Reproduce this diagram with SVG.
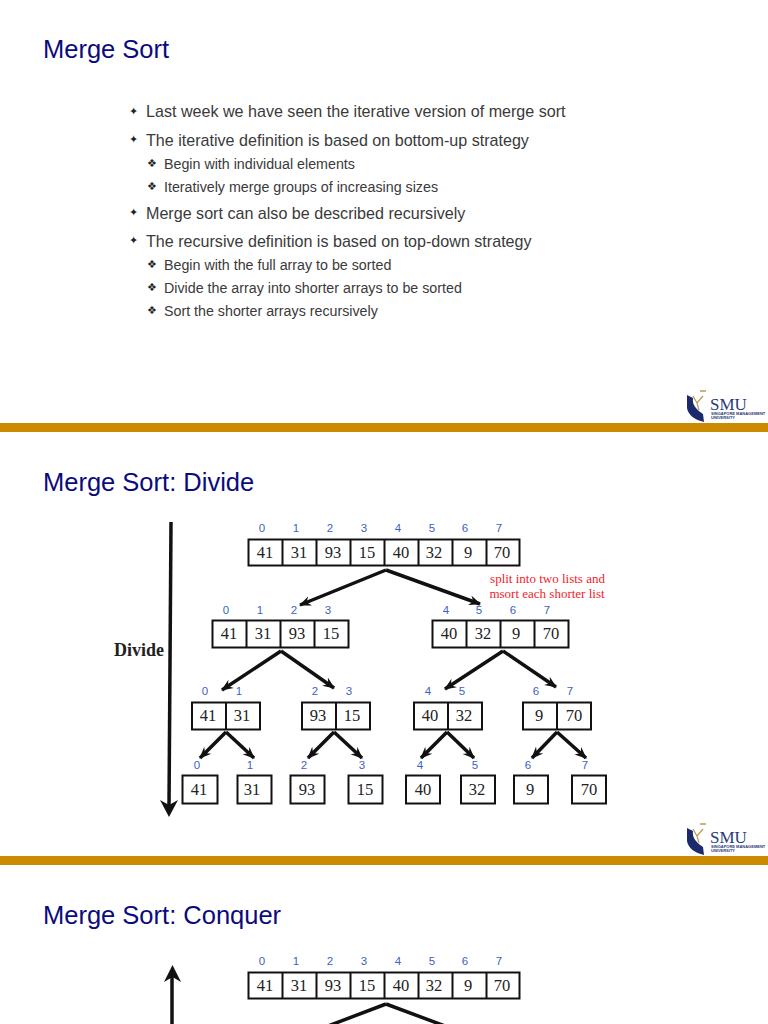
<svg xmlns="http://www.w3.org/2000/svg" width="768" height="1024" viewBox="0 0 768 1024">
<style>
.title{font:25.500px "Liberation Sans",Arial,sans-serif;fill:#0b0b7d}
.b1{font:16.100px "Liberation Sans",Arial,sans-serif;fill:#3a3a3a}
.b2{font:14.250px "Liberation Sans",Arial,sans-serif;fill:#3a3a3a}
.m1{font:11px "DejaVu Sans",sans-serif;fill:#222}
.m2{font:11px "DejaVu Sans",sans-serif;fill:#222}
.band{fill:#cc8a00}
.box{fill:#fff;stroke:#111;stroke-width:2}
.div{stroke:#111;stroke-width:2}
.v{font:16.500px "Liberation Serif",serif;fill:#222;text-anchor:middle}
.i{font:11.500px "Liberation Sans",sans-serif;fill:#3c62c4;text-anchor:middle}
.red{font:13px "Liberation Serif",serif;fill:#f01c2c;text-anchor:middle}
.lab{font:bold 18px "Liberation Serif",serif;fill:#222;text-anchor:middle}
.arr{stroke:#111;stroke-width:3.500;fill:none;marker-end:url(#h)}
.big{stroke:#111;stroke-width:3.500;fill:none}
.head{fill:#111}
.smu{font:17px "Liberation Serif",serif;fill:#2a3a7a}
.smus{font:bold 4px "Liberation Sans",sans-serif;fill:#2a3a7a}
</style>
<defs>
<marker id="h" markerUnits="userSpaceOnUse" markerWidth="14" markerHeight="12" refX="11" refY="6" orient="auto">
<path d="M0 1L12 6L0 11L4 6Z" fill="#111"/>
</marker>
<g id="logo">
<path d="M687 395L693 398C692 405 696 409 703 414L704 422C695 420 688 415 687 408Z" fill="#1b2a6b"/>
<path d="M693 396L697 403L703 396M697 403L699 410" fill="none" stroke="#b89a50" stroke-width="1.200"/>
<path d="M700 391L706 391" stroke="#b89a50" stroke-width="1.500"/>
<text class="smu" x="710" y="410">SMU</text>
<text class="smus" x="711" y="415">SINGAPORE MANAGEMENT</text>
<text class="smus" x="711" y="419">UNIVERSITY</text>
</g>
</defs>
<rect width="768" height="1024" fill="#fff"/>

<g id="slide1">
<text class="title" x="43" y="58">Merge Sort</text>
<text class="m1" x="129" y="115">✦</text><text class="b1" x="146" y="117">Last week we have seen the iterative version of merge sort</text>
<text class="m1" x="129" y="143">✦</text><text class="b1" x="146" y="146">The iterative definition is based on bottom-up strategy</text>
<text class="m2" x="147" y="167">❖</text><text class="b2" x="164" y="169">Begin with individual elements</text>
<text class="m2" x="147" y="190">❖</text><text class="b2" x="164" y="192">Iteratively merge groups of increasing sizes</text>
<text class="m1" x="129" y="216">✦</text><text class="b1" x="146" y="219">Merge sort can also be described recursively</text>
<text class="m1" x="129" y="244">✦</text><text class="b1" x="146" y="247">The recursive definition is based on top-down strategy</text>
<text class="m2" x="147" y="268">❖</text><text class="b2" x="164" y="270">Begin with the full array to be sorted</text>
<text class="m2" x="147" y="291">❖</text><text class="b2" x="164" y="293">Divide the array into shorter arrays to be sorted</text>
<text class="m2" x="147" y="314">❖</text><text class="b2" x="164" y="316">Sort the shorter arrays recursively</text>
<use href="#logo"/>
<rect class="band" x="0" y="423" width="768" height="9"/>
</g>

<g id="slide2">
<text class="title" x="43" y="491">Merge Sort: Divide</text>
<use href="#logo" y="433"/>
<rect class="band" x="0" y="856" width="768" height="9"/>
<text class="lab" x="139" y="656">Divide</text>
<text class="red" x="547.500" y="583">split into two lists and</text>
<text class="red" x="547" y="598">msort each shorter list</text>
</g>

<g id="connectors">
<path class="big" d="M171 522L169 806"/>
<path class="head" d="M169 817L160 800L169 805L178 800Z"/>
<path class="arr" d="M386 570L300 605"/>
<path class="arr" d="M386 570L480 604"/>
<path class="arr" d="M281 651L222 690"/>
<path class="arr" d="M281 651L334 688"/>
<path class="arr" d="M503 651L445 689"/>
<path class="arr" d="M503 651L556 687"/>
<path class="arr" d="M226 732L200 758"/>
<path class="arr" d="M226 732L254 758"/>
<path class="arr" d="M334 732L308 758"/>
<path class="arr" d="M334 732L362 758"/>
<path class="arr" d="M447 732L421 758"/>
<path class="arr" d="M447 732L474 758"/>
<path class="arr" d="M557 732L532 758"/>
<path class="arr" d="M557 732L586 758"/>
<path class="big" d="M172 1024L172 977"/>
<path class="head" d="M172.500 965L181 982L172.500 977L164 982Z"/>
<path class="big" d="M386 1004L328 1026M386 1004L445 1026"/>
</g>

<g id="a-top">
<rect class="box" x="248.500" y="539.500" width="271" height="26"/>
<path class="div" d="M282.500 539V566M316.500 539V566M350.500 539V566M384.500 539V566M418.500 539V566M452.500 539V566M486.500 539V566"/>
<g class="v"><text x="265" y="558">41</text><text x="299" y="558">31</text><text x="333" y="558">93</text><text x="367" y="558">15</text><text x="401" y="558">40</text><text x="434" y="558">32</text><text x="468" y="558">9</text><text x="502" y="558">70</text></g>
<g class="i"><text x="262" y="532">0</text><text x="296" y="532">1</text><text x="330" y="532">2</text><text x="364" y="532">3</text><text x="398" y="532">4</text><text x="432" y="532">5</text><text x="465" y="532">6</text><text x="499" y="532">7</text></g>
</g>

<g id="a-l">
<rect class="box" x="212.500" y="620.500" width="136" height="27"/>
<path class="div" d="M246.500 620V648M280.500 620V648M314.500 620V648"/>
<g class="v"><text x="229" y="639">41</text><text x="263" y="639">31</text><text x="297" y="639">93</text><text x="331" y="639">15</text></g>
<g class="i"><text x="226" y="614">0</text><text x="260" y="614">1</text><text x="294" y="614">2</text><text x="328" y="614">3</text></g>
</g>

<g id="a-r">
<rect class="box" x="432.500" y="620.500" width="136" height="27"/>
<path class="div" d="M466.500 620V648M500.500 620V648M534.500 620V648"/>
<g class="v"><text x="449" y="639">40</text><text x="483" y="639">32</text><text x="516" y="639">9</text><text x="551" y="639">70</text></g>
<g class="i"><text x="446" y="614">4</text><text x="479" y="614">5</text><text x="513" y="614">6</text><text x="547" y="614">7</text></g>
</g>

<g id="a-ll">
<rect class="box" x="192" y="702.500" width="68" height="27"/>
<path class="div" d="M226 702V730"/>
<g class="v"><text x="208" y="721">41</text><text x="242" y="721">31</text></g>
<g class="i"><text x="205" y="695">0</text><text x="239" y="695">1</text></g>
</g>
<g id="a-lr">
<rect class="box" x="302" y="702.500" width="68" height="27"/>
<path class="div" d="M336 702V730"/>
<g class="v"><text x="318" y="721">93</text><text x="352" y="721">15</text></g>
<g class="i"><text x="315" y="695">2</text><text x="349" y="695">3</text></g>
</g>
<g id="a-rl">
<rect class="box" x="414" y="702.500" width="68" height="27"/>
<path class="div" d="M448 702V730"/>
<g class="v"><text x="430" y="721">40</text><text x="464" y="721">32</text></g>
<g class="i"><text x="428" y="695">4</text><text x="462" y="695">5</text></g>
</g>
<g id="a-rr">
<rect class="box" x="523" y="702.500" width="68" height="27"/>
<path class="div" d="M557 702V730"/>
<g class="v"><text x="539" y="721">9</text><text x="574" y="721">70</text></g>
<g class="i"><text x="536" y="695">6</text><text x="570" y="695">7</text></g>
</g>

<g id="leaf-0"><rect class="box" x="182.500" y="775.500" width="35" height="28"/><text class="v" x="199" y="795">41</text><text class="i" x="197" y="769">0</text></g>
<g id="leaf-1"><rect class="box" x="237.500" y="775.500" width="34" height="28"/><text class="v" x="252" y="795">31</text><text class="i" x="250" y="769">1</text></g>
<g id="leaf-2"><rect class="box" x="290.500" y="775.500" width="34" height="28"/><text class="v" x="307" y="795">93</text><text class="i" x="304" y="769">2</text></g>
<g id="leaf-3"><rect class="box" x="348.500" y="775.500" width="34" height="28"/><text class="v" x="365" y="795">15</text><text class="i" x="362" y="769">3</text></g>
<g id="leaf-4"><rect class="box" x="406" y="775.500" width="34" height="28"/><text class="v" x="423" y="795">40</text><text class="i" x="420" y="769">4</text></g>
<g id="leaf-5"><rect class="box" x="461" y="775.500" width="34" height="28"/><text class="v" x="477" y="795">32</text><text class="i" x="475" y="769">5</text></g>
<g id="leaf-6"><rect class="box" x="514" y="775.500" width="34" height="28"/><text class="v" x="530" y="795">9</text><text class="i" x="528" y="769">6</text></g>
<g id="leaf-7"><rect class="box" x="572" y="775.500" width="34" height="28"/><text class="v" x="589" y="795">70</text><text class="i" x="585" y="769">7</text></g>

<g id="slide3">
<text class="title" x="43" y="924">Merge Sort: Conquer</text>
</g>
<g id="c-top">
<rect class="box" x="248.500" y="972.500" width="271" height="26"/>
<path class="div" d="M282.500 972V999M316.500 972V999M350.500 972V999M384.500 972V999M418.500 972V999M452.500 972V999M486.500 972V999"/>
<g class="v"><text x="265" y="991">41</text><text x="299" y="991">31</text><text x="333" y="991">93</text><text x="367" y="991">15</text><text x="401" y="991">40</text><text x="434" y="991">32</text><text x="468" y="991">9</text><text x="502" y="991">70</text></g>
<g class="i"><text x="262" y="965">0</text><text x="296" y="965">1</text><text x="330" y="965">2</text><text x="364" y="965">3</text><text x="398" y="965">4</text><text x="432" y="965">5</text><text x="465" y="965">6</text><text x="499" y="965">7</text></g>
</g>
</svg>
